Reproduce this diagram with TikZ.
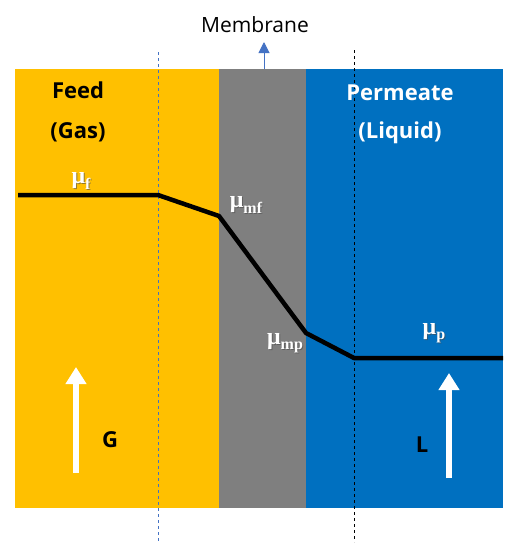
\documentclass[tikz,border=0pt]{standalone}
\usepackage{fontspec}
\setmainfont{Open Sans}
\newfontfamily\serifmu{Liberation Serif}
\usetikzlibrary{arrows.meta}
\definecolor{feedcol}{HTML}{FFC000}
\definecolor{memcol}{HTML}{7F7F7F}
\definecolor{permcol}{HTML}{0070C0}
\definecolor{accblue}{HTML}{4472C4}
\newcommand{\mulab}[1]{{\serifmu\bfseries\fontsize{24}{26}\selectfont μ\raisebox{-0.22em}{\fontsize{16}{17}\selectfont #1}}}
\tikzset{
  bigtxt/.style={font=\bfseries\fontsize{22}{24}\selectfont, inner sep=0pt},
  mutxt/.style={text=white, inner sep=0pt},
  mushadow/.style={text=black!70, inner sep=0pt, opacity=0.6},
  flowarrow/.style={white, line width=6pt, -{Triangle[width=20pt,length=17pt]}},
  divline/.style={line width=0.8pt, dash pattern=on 3pt off 3pt},
}
\begin{document}
\begin{tikzpicture}[x=1pt,y=-1pt]
\useasboundingbox (0,0) rectangle (512,550);
\fill[white] (0,0) rectangle (512,550);
% regions
\fill[feedcol] (15,69) rectangle (219,508);
\fill[memcol] (219,69) rectangle (306,508);
\fill[permcol] (306,69) rectangle (503,508);
% divider lines
\draw[divline, accblue] (158,52) -- (158,542);
\draw[divline, black] (354,50) -- (354,542);
% membrane label
\node[font=\fontsize{21}{23}\selectfont, inner sep=0pt] (memlab) at (255,25) {Membrane};
\coordinate (membase) at (264,69);
\coordinate (memtip) at (264,42);
\draw[accblue, line width=1pt, -{Triangle[width=11pt,length=11pt]}] (membase) -- (memtip);
% chemical potential profile
\coordinate (p0) at (18,195);
\coordinate (p1) at (158,195);
\coordinate (p2) at (219,216);
\coordinate (p3) at (306,333);
\coordinate (p4) at (354,358);
\coordinate (p5) at (503,358);
\draw[line width=4.5pt, line join=round] (p0) -- (p1) -- (p2) -- (p3) -- (p4) -- (p5);
% text labels
\node[bigtxt] (feed) at (78,90) {Feed};
\node[bigtxt] (gas) at (78,132) {(Gas)};
\node[bigtxt, text=white] (perm) at (400,93) {Permeate};
\node[bigtxt, text=white] (liq) at (400,133) {(Liquid)};
\node[bigtxt] (glab) at (110,440) {G};
\node[bigtxt] (llab) at (422,445) {L};
% mu labels with shadow
\node[mushadow] at (82,182) {\mulab{f}};
\node[mutxt] (muf) at (81,181) {\mulab{f}};
\node[mushadow] at (247,206) {\mulab{mf}};
\node[mutxt] (mumf) at (246,205) {\mulab{mf}};
\node[mushadow] at (286,344) {\mulab{mp}};
\node[mutxt] (mump) at (285,343) {\mulab{mp}};
\node[mushadow] at (435,334) {\mulab{p}};
\node[mutxt] (mup) at (434,333) {\mulab{p}};
% flow arrows
\coordinate (gbot) at (76,473);
\coordinate (gtop) at (76,367);
\draw[flowarrow] (gbot) -- (gtop);
\coordinate (lbot) at (449,478);
\coordinate (ltop) at (449,373);
\draw[flowarrow] (lbot) -- (ltop);
\end{tikzpicture}
\end{document}
